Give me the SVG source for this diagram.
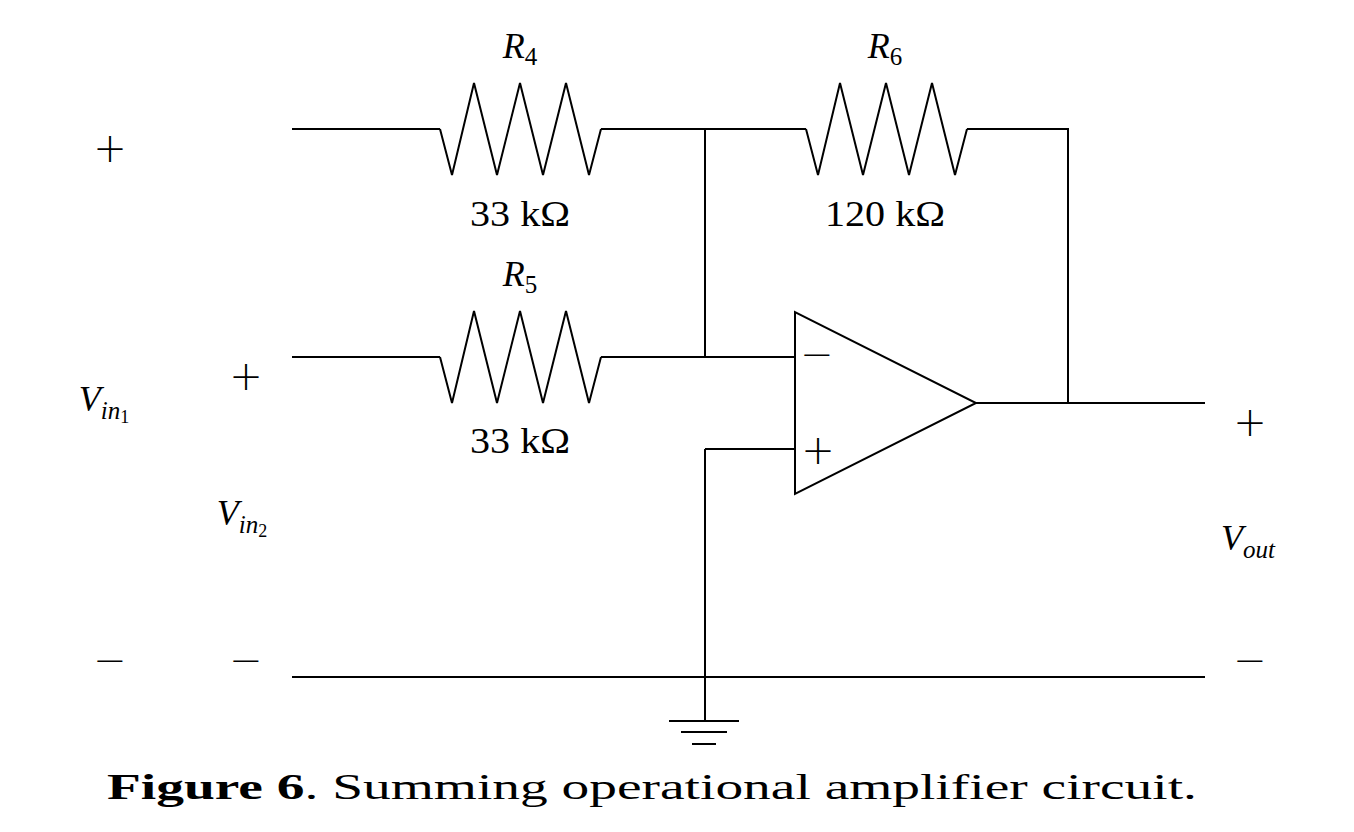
<svg xmlns="http://www.w3.org/2000/svg" width="1354" height="832" viewBox="0 0 1354 832">
<style>
.w{fill:none;stroke:#000;stroke-width:2;stroke-linejoin:miter}
text{font-family:"Liberation Serif","DejaVu Serif",serif;font-size:36px;fill:#000;text-anchor:middle}
.i{font-style:italic}
.s{font-size:25px}
.p{font-family:"DejaVu Sans",sans-serif;font-size:40px;font-weight:200}
</style>
<rect width="1354" height="832" fill="#fff"/>
<g id="connectors">
<path class="w" d="M292,129H440M601,129H806M967,129H1068V403M705,129V357M292,357H440M601,357H795M976,403H1205M705,449H795M705,449V721M292,677H1205"/>
</g>
<g id="R4"><polyline class="w" points="440,129 452,175 474,83 497,175 520,83 543,175 566,83 589,175 601,129"/>
<text x="520" y="58" class="i">R<tspan class="s" font-style="normal" dy="7">4</tspan></text>
<text x="520" y="226" textLength="100" lengthAdjust="spacingAndGlyphs">33 kΩ</text></g>
<g id="R6"><polyline class="w" points="806,129 818,175 840,83 863,175 886,83 909,175 932,83 955,175 967,129"/>
<text x="885" y="58" class="i">R<tspan class="s" font-style="normal" dy="7">6</tspan></text>
<text x="885" y="226" textLength="120" lengthAdjust="spacingAndGlyphs">120 kΩ</text></g>
<g id="R5"><polyline class="w" points="440,357 452,403 474,311 497,403 520,311 543,403 566,311 589,403 601,357"/>
<text x="520" y="286" class="i">R<tspan class="s" font-style="normal" dy="7">5</tspan></text>
<text x="520" y="453" textLength="100" lengthAdjust="spacingAndGlyphs">33 kΩ</text></g>
<g id="opamp"><polygon class="w" points="795,312 795,494 976,403"/>
<text class="p" x="817" y="368">−</text><text class="p" x="818" y="464">+</text></g>
<g id="ground"><path class="w" d="M669,721H739M681,732H727M692,744H716"/></g>
<g id="vin1"><text class="p" x="110" y="162">+</text><text class="p" x="110" y="674">−</text>
<text x="104" y="411" class="i">V<tspan class="s" dy="8">in</tspan><tspan font-size="18" font-style="normal" dy="4">1</tspan></text></g>
<g id="vin2"><text class="p" x="246" y="390">+</text><text class="p" x="246" y="674">−</text>
<text x="242" y="525" class="i">V<tspan class="s" dy="8">in</tspan><tspan font-size="18" font-style="normal" dy="4">2</tspan></text></g>
<g id="vout"><text class="p" x="1250" y="436">+</text><text class="p" x="1250" y="674">−</text>
<text x="1248" y="550" class="i">V<tspan class="s" dy="8">out</tspan></text></g>
<text x="652" y="799" font-size="50" textLength="1090" lengthAdjust="spacingAndGlyphs"><tspan font-weight="bold">Figure 6</tspan>. Summing operational amplifier circuit.</text>
</svg>
